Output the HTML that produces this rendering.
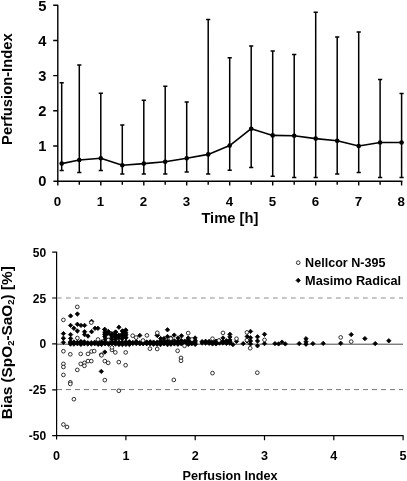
<!DOCTYPE html>
<html lang="en"><head><meta charset="utf-8"><title>Perfusion Index</title>
<style>html,body{margin:0;padding:0;background:#fff}svg{display:block}text{font-family:"Liberation Sans",sans-serif;font-weight:bold;fill:#000}</style>
</head><body>
<svg width="407" height="481" viewBox="0 0 407 481">
<rect width="407" height="481" fill="#fff"/>
<g stroke="#000" stroke-width="1.4" fill="none">
<path d="M57.8 4.8V185.5M53.4 181.2H402.4"/>
<path d="M53.2 146.0H57.8M53.2 110.8H57.8M53.2 75.6H57.8M53.2 40.5H57.8M53.2 5.3H57.8M79.3 181.2V184.8M100.8 181.2V185.6M122.3 181.2V184.8M143.8 181.2V185.6M165.2 181.2V184.8M186.7 181.2V185.6M208.2 181.2V184.8M229.7 181.2V185.6M251.2 181.2V184.8M272.7 181.2V185.6M294.2 181.2V184.8M315.7 181.2V185.6M337.2 181.2V184.8M358.7 181.2V185.6M380.1 181.2V184.8M401.6 181.2V185.6"/>
</g>
<path d="M61.7 82.7V170.6M59.6 82.7h4.2M59.6 170.6h4.2M79.3 65.1V172.5M77.2 65.1h4.2M77.2 172.5h4.2M100.8 93.2V170.6M98.7 93.2h4.2M98.7 170.6h4.2M122.3 124.9V174.1M120.2 124.9h4.2M120.2 174.1h4.2M143.8 100.3V174.1M141.7 100.3h4.2M141.7 174.1h4.2M165.2 86.2V174.1M163.2 86.2h4.2M163.2 174.1h4.2M186.7 102.0V172.0M184.6 102.0h4.2M184.6 172.0h4.2M208.2 19.4V174.1M206.1 19.4h4.2M206.1 174.1h4.2M229.7 57.7V170.2M227.6 57.7h4.2M227.6 170.2h4.2M251.2 46.1V167.4M249.1 46.1h4.2M249.1 167.4h4.2M272.7 51.0V176.2M270.6 51.0h4.2M270.6 176.2h4.2M294.2 54.5V177.6M292.1 54.5h4.2M292.1 177.6h4.2M315.7 12.3V177.6M313.6 12.3h4.2M313.6 177.6h4.2M337.2 37.0V174.1M335.1 37.0h4.2M335.1 174.1h4.2M358.7 32.0V172.4M356.6 32.0h4.2M356.6 172.4h4.2M380.1 79.5V177.6M378.0 79.5h4.2M378.0 177.6h4.2M401.6 93.6V177.6M399.5 93.6h4.2M399.5 177.6h4.2" stroke="#000" stroke-width="1.5" fill="none"/>
<polyline points="61.7,163.6 79.3,160.0 100.8,158.3 122.3,165.3 143.8,163.6 165.2,161.8 186.7,158.3 208.2,154.4 229.7,145.6 251.2,128.7 272.7,135.4 294.2,135.8 315.7,138.6 337.2,140.7 358.7,146.0 380.1,142.5 401.6,142.5" stroke="#000" stroke-width="1.6" fill="none" stroke-linejoin="round"/>
<circle cx="61.7" cy="163.6" r="2.3"/>
<circle cx="79.3" cy="160.0" r="2.3"/>
<circle cx="100.8" cy="158.3" r="2.3"/>
<circle cx="122.3" cy="165.3" r="2.3"/>
<circle cx="143.8" cy="163.6" r="2.3"/>
<circle cx="165.2" cy="161.8" r="2.3"/>
<circle cx="186.7" cy="158.3" r="2.3"/>
<circle cx="208.2" cy="154.4" r="2.3"/>
<circle cx="229.7" cy="145.6" r="2.3"/>
<circle cx="251.2" cy="128.7" r="2.3"/>
<circle cx="272.7" cy="135.4" r="2.3"/>
<circle cx="294.2" cy="135.8" r="2.3"/>
<circle cx="315.7" cy="138.6" r="2.3"/>
<circle cx="337.2" cy="140.7" r="2.3"/>
<circle cx="358.7" cy="146.0" r="2.3"/>
<circle cx="380.1" cy="142.5" r="2.3"/>
<circle cx="401.6" cy="142.5" r="2.3"/>
<text x="46.4" y="186.3" font-size="14.7" text-anchor="end">0</text>
<text x="46.4" y="151.2" font-size="14.7" text-anchor="end">1</text>
<text x="46.4" y="116.0" font-size="14.7" text-anchor="end">2</text>
<text x="46.4" y="80.8" font-size="14.7" text-anchor="end">3</text>
<text x="46.4" y="45.7" font-size="14.7" text-anchor="end">4</text>
<text x="46.4" y="10.5" font-size="14.7" text-anchor="end">5</text>
<text x="57.5" y="205.7" font-size="13.3" text-anchor="middle">0</text>
<text x="100.5" y="205.7" font-size="13.3" text-anchor="middle">1</text>
<text x="143.5" y="205.7" font-size="13.3" text-anchor="middle">2</text>
<text x="186.4" y="205.7" font-size="13.3" text-anchor="middle">3</text>
<text x="229.4" y="205.7" font-size="13.3" text-anchor="middle">4</text>
<text x="272.4" y="205.7" font-size="13.3" text-anchor="middle">5</text>
<text x="315.4" y="205.7" font-size="13.3" text-anchor="middle">6</text>
<text x="358.4" y="205.7" font-size="13.3" text-anchor="middle">7</text>
<text x="401.3" y="205.7" font-size="13.3" text-anchor="middle">8</text>
<text x="201.4" y="222.7" font-size="14.3" textLength="56.9" lengthAdjust="spacingAndGlyphs">Time [h]</text>
<text transform="translate(12.0 144.9) rotate(-90)" font-size="14.3" textLength="111.6" lengthAdjust="spacingAndGlyphs">Perfusion-Index</text>
<g stroke="#000" stroke-width="1.2" fill="none">
<path d="M56.6 251.7V439.6M52.2 435.6H403.4"/>
<path d="M52.2 252.2H56.6M52.2 298.0H56.6M52.2 343.9H56.6M52.2 389.8H56.6M125.9 435.6V440.2M195.2 435.6V440.2M264.5 435.6V440.2M333.8 435.6V440.2M403.1 435.6V440.2"/>
</g>
<path d="M57 298.0H403" stroke="#b4b4b4" stroke-width="1.6" stroke-dasharray="4.7 4.3" fill="none"/>
<path d="M57 389.6H403" stroke="#555" stroke-width="0.8" stroke-dasharray="5 4" fill="none"/>
<path d="M57 344.2H403" stroke="#333" stroke-width="0.9" fill="none"/>
<text x="46.2" y="256.7" font-size="12" text-anchor="end">50</text>
<text x="46.2" y="302.5" font-size="12" text-anchor="end">25</text>
<text x="46.2" y="348.4" font-size="12" text-anchor="end">0</text>
<text x="46.2" y="394.2" font-size="12" text-anchor="end">-25</text>
<text x="46.2" y="440.1" font-size="12" text-anchor="end">-50</text>
<text x="56.6" y="459.5" font-size="12.6" text-anchor="middle">0</text>
<text x="125.9" y="459.5" font-size="12.6" text-anchor="middle">1</text>
<text x="195.2" y="459.5" font-size="12.6" text-anchor="middle">2</text>
<text x="264.5" y="459.5" font-size="12.6" text-anchor="middle">3</text>
<text x="333.8" y="459.5" font-size="12.6" text-anchor="middle">4</text>
<text x="403.1" y="459.5" font-size="12.6" text-anchor="middle">5</text>
<text x="182.6" y="480.4" font-size="12.2" textLength="95" lengthAdjust="spacingAndGlyphs">Perfusion Index</text>
<text transform="translate(12.3 419.2) rotate(-90)" font-size="14.6" textLength="153" lengthAdjust="spacingAndGlyphs">Bias (SpO<tspan font-size="9" dy="1.8">2</tspan><tspan dy="-1.8">-SaO</tspan><tspan font-size="9" dy="1.8">2</tspan><tspan dy="-1.8">) [%]</tspan></text>
<text x="305.1" y="267.1" font-size="12.3" textLength="80.4" lengthAdjust="spacingAndGlyphs">Nellcor N-395</text>
<text x="305.1" y="284.8" font-size="12.3" textLength="96" lengthAdjust="spacingAndGlyphs">Masimo Radical</text>
<path d="M70.5 339.6L72.7 341.8L70.5 344.0L68.3 341.8ZM70.5 340.7L72.7 342.9L70.5 345.1L68.3 342.9ZM70.5 341.9L72.7 344.1L70.5 346.3L68.3 344.1ZM73.9 339.8L76.1 342.0L73.9 344.2L71.7 342.0ZM73.9 340.9L76.1 343.1L73.9 345.3L71.7 343.1ZM73.9 341.9L76.1 344.1L73.9 346.3L71.7 344.1ZM77.4 340.1L79.6 342.3L77.4 344.5L75.2 342.3ZM77.4 341.5L79.6 343.7L77.4 345.9L75.2 343.7ZM80.9 339.3L83.1 341.5L80.9 343.7L78.7 341.5ZM80.9 340.7L83.1 342.9L80.9 345.1L78.7 342.9ZM80.9 342.2L83.1 344.4L80.9 346.6L78.7 344.4ZM84.3 339.6L86.5 341.8L84.3 344.0L82.1 341.8ZM84.3 340.6L86.5 342.8L84.3 345.0L82.1 342.8ZM84.3 341.6L86.5 343.8L84.3 346.0L82.1 343.8ZM87.8 340.6L90.0 342.8L87.8 345.0L85.6 342.8ZM87.8 341.8L90.0 344.0L87.8 346.2L85.6 344.0ZM91.2 340.4L93.5 342.6L91.2 344.8L89.0 342.6ZM91.2 341.8L93.5 344.0L91.2 346.2L89.0 344.0ZM94.7 340.1L96.9 342.3L94.7 344.5L92.5 342.3ZM94.7 341.5L96.9 343.7L94.7 345.9L92.5 343.7ZM98.2 340.1L100.4 342.3L98.2 344.5L96.0 342.3ZM98.2 341.2L100.4 343.4L98.2 345.6L96.0 343.4ZM98.2 342.2L100.4 344.4L98.2 346.6L96.0 344.4ZM101.6 339.7L103.8 341.9L101.6 344.1L99.4 341.9ZM101.6 340.9L103.8 343.1L101.6 345.3L99.4 343.1ZM101.6 342.2L103.8 344.4L101.6 346.6L99.4 344.4ZM105.1 339.9L107.3 342.1L105.1 344.3L102.9 342.1ZM105.1 340.7L107.3 342.9L105.1 345.1L102.9 342.9ZM105.1 341.6L107.3 343.8L105.1 346.0L102.9 343.8ZM108.6 340.0L110.8 342.2L108.6 344.4L106.4 342.2ZM108.6 341.0L110.8 343.2L108.6 345.4L106.4 343.2ZM108.6 342.0L110.8 344.2L108.6 346.4L106.4 344.2ZM112.0 339.4L114.2 341.6L112.0 343.8L109.8 341.6ZM112.0 340.5L114.2 342.7L112.0 344.9L109.8 342.7ZM112.0 341.5L114.2 343.7L112.0 345.9L109.8 343.7ZM115.5 340.1L117.7 342.3L115.5 344.5L113.3 342.3ZM115.5 341.0L117.7 343.2L115.5 345.4L113.3 343.2ZM115.5 341.9L117.7 344.1L115.5 346.3L113.3 344.1ZM119.0 339.9L121.2 342.1L119.0 344.3L116.8 342.1ZM119.0 341.1L121.2 343.3L119.0 345.5L116.8 343.3ZM119.0 342.3L121.2 344.5L119.0 346.7L116.8 344.5ZM122.4 339.9L124.6 342.1L122.4 344.3L120.2 342.1ZM122.4 341.1L124.6 343.3L122.4 345.5L120.2 343.3ZM122.4 342.3L124.6 344.5L122.4 346.7L120.2 344.5ZM125.9 339.5L128.1 341.7L125.9 343.9L123.7 341.7ZM125.9 340.9L128.1 343.1L125.9 345.3L123.7 343.1ZM125.9 342.2L128.1 344.4L125.9 346.6L123.7 344.4ZM129.4 339.6L131.6 341.8L129.4 344.0L127.2 341.8ZM129.4 341.0L131.6 343.2L129.4 345.4L127.2 343.2ZM129.4 342.3L131.6 344.5L129.4 346.7L127.2 344.5ZM132.8 340.2L135.0 342.4L132.8 344.6L130.6 342.4ZM132.8 341.3L135.0 343.5L132.8 345.7L130.6 343.5ZM136.3 339.3L138.5 341.5L136.3 343.7L134.1 341.5ZM136.3 340.3L138.5 342.5L136.3 344.7L134.1 342.5ZM136.3 341.4L138.5 343.6L136.3 345.8L134.1 343.6ZM139.8 340.4L142.0 342.6L139.8 344.8L137.6 342.6ZM139.8 341.6L142.0 343.8L139.8 346.0L137.6 343.8ZM143.2 339.9L145.4 342.1L143.2 344.3L141.0 342.1ZM143.2 340.7L145.4 342.9L143.2 345.1L141.0 342.9ZM143.2 341.5L145.4 343.7L143.2 345.9L141.0 343.7ZM146.7 339.8L148.9 342.0L146.7 344.2L144.5 342.0ZM146.7 340.7L148.9 342.9L146.7 345.1L144.5 342.9ZM146.7 341.5L148.9 343.7L146.7 345.9L144.5 343.7ZM150.2 339.6L152.4 341.8L150.2 344.0L148.0 341.8ZM150.2 340.6L152.4 342.8L150.2 345.0L148.0 342.8ZM150.2 341.7L152.4 343.9L150.2 346.1L148.0 343.9ZM153.6 339.9L155.8 342.1L153.6 344.3L151.4 342.1ZM153.6 340.9L155.8 343.1L153.6 345.3L151.4 343.1ZM153.6 342.0L155.8 344.2L153.6 346.4L151.4 344.2ZM157.1 340.0L159.3 342.2L157.1 344.4L154.9 342.2ZM157.1 341.0L159.3 343.2L157.1 345.4L154.9 343.2ZM157.1 342.0L159.3 344.2L157.1 346.4L154.9 344.2ZM160.5 338.9L162.7 341.1L160.5 343.3L158.3 341.1ZM160.5 340.1L162.7 342.3L160.5 344.5L158.3 342.3ZM160.5 341.2L162.7 343.4L160.5 345.6L158.3 343.4ZM160.5 342.4L162.7 344.6L160.5 346.8L158.3 344.6ZM164.0 338.7L166.2 340.9L164.0 343.1L161.8 340.9ZM164.0 340.2L166.2 342.4L164.0 344.6L161.8 342.4ZM164.0 341.6L166.2 343.8L164.0 346.0L161.8 343.8ZM167.5 338.9L169.7 341.1L167.5 343.3L165.3 341.1ZM167.5 340.1L169.7 342.3L167.5 344.5L165.3 342.3ZM167.5 341.2L169.7 343.4L167.5 345.6L165.3 343.4ZM167.5 342.4L169.7 344.6L167.5 346.8L165.3 344.6ZM170.9 339.0L173.1 341.2L170.9 343.4L168.7 341.2ZM170.9 340.0L173.1 342.2L170.9 344.4L168.7 342.2ZM170.9 341.0L173.1 343.2L170.9 345.4L168.7 343.2ZM170.9 342.0L173.1 344.2L170.9 346.4L168.7 344.2ZM174.4 338.7L176.6 340.9L174.4 343.1L172.2 340.9ZM174.4 340.2L176.6 342.4L174.4 344.6L172.2 342.4ZM174.4 341.7L176.6 343.9L174.4 346.1L172.2 343.9ZM177.9 338.9L180.1 341.1L177.9 343.3L175.7 341.1ZM177.9 339.9L180.1 342.1L177.9 344.3L175.7 342.1ZM177.9 341.0L180.1 343.2L177.9 345.4L175.7 343.2ZM177.9 342.0L180.1 344.2L177.9 346.4L175.7 344.2ZM181.3 338.2L183.5 340.4L181.3 342.6L179.1 340.4ZM181.3 339.3L183.5 341.5L181.3 343.7L179.1 341.5ZM181.3 340.4L183.5 342.6L181.3 344.8L179.1 342.6ZM181.3 341.6L183.5 343.8L181.3 346.0L179.1 343.8ZM184.8 338.9L187.0 341.1L184.8 343.3L182.6 341.1ZM184.8 340.1L187.0 342.3L184.8 344.5L182.6 342.3ZM184.8 341.2L187.0 343.4L184.8 345.6L182.6 343.4ZM184.8 342.4L187.0 344.6L184.8 346.8L182.6 344.6ZM188.3 337.9L190.5 340.1L188.3 342.3L186.1 340.1ZM188.3 339.4L190.5 341.6L188.3 343.8L186.1 341.6ZM188.3 340.8L190.5 343.0L188.3 345.2L186.1 343.0ZM188.3 342.2L190.5 344.4L188.3 346.6L186.1 344.4ZM191.7 338.3L193.9 340.5L191.7 342.7L189.5 340.5ZM191.7 339.4L193.9 341.6L191.7 343.8L189.5 341.6ZM191.7 340.5L193.9 342.7L191.7 344.9L189.5 342.7ZM191.7 341.6L193.9 343.8L191.7 346.0L189.5 343.8ZM195.2 338.2L197.4 340.4L195.2 342.6L193.0 340.4ZM195.2 339.5L197.4 341.7L195.2 343.9L193.0 341.7ZM195.2 340.9L197.4 343.1L195.2 345.3L193.0 343.1ZM195.2 342.2L197.4 344.4L195.2 346.6L193.0 344.4ZM202.1 339.4L204.3 341.6L202.1 343.8L199.9 341.6ZM202.1 340.8L204.3 343.0L202.1 345.2L199.9 343.0ZM205.6 339.1L207.8 341.3L205.6 343.5L203.4 341.3ZM205.6 340.0L207.8 342.2L205.6 344.4L203.4 342.2ZM205.6 340.8L207.8 343.0L205.6 345.2L203.4 343.0ZM209.1 339.2L211.3 341.4L209.1 343.6L206.9 341.4ZM209.1 340.2L211.3 342.4L209.1 344.6L206.9 342.4ZM209.1 341.1L211.3 343.3L209.1 345.5L206.9 343.3ZM212.5 339.4L214.7 341.6L212.5 343.8L210.3 341.6ZM212.5 340.6L214.7 342.8L212.5 345.0L210.3 342.8ZM212.5 341.7L214.7 343.9L212.5 346.1L210.3 343.9ZM216.0 339.0L218.2 341.2L216.0 343.4L213.8 341.2ZM216.0 340.3L218.2 342.5L216.0 344.7L213.8 342.5ZM216.0 341.7L218.2 343.9L216.0 346.1L213.8 343.9ZM219.5 338.7L221.7 340.9L219.5 343.1L217.3 340.9ZM219.5 339.8L221.7 342.0L219.5 344.2L217.3 342.0ZM219.5 340.9L221.7 343.1L219.5 345.3L217.3 343.1ZM222.9 339.1L225.1 341.3L222.9 343.5L220.7 341.3ZM222.9 340.0L225.1 342.2L222.9 344.4L220.7 342.2ZM222.9 340.8L225.1 343.0L222.9 345.2L220.7 343.0ZM226.4 338.6L228.6 340.8L226.4 343.0L224.2 340.8ZM226.4 339.9L228.6 342.1L226.4 344.3L224.2 342.1ZM226.4 341.2L228.6 343.4L226.4 345.6L224.2 343.4ZM229.8 339.1L232.0 341.3L229.8 343.5L227.7 341.3ZM229.8 340.0L232.0 342.2L229.8 344.4L227.7 342.2ZM229.8 340.9L232.0 343.1L229.8 345.3L227.7 343.1ZM70.6 313.7L72.8 315.9L70.6 318.1L68.4 315.9ZM77.4 311.8L79.6 314.0L77.4 316.2L75.2 314.0ZM70.6 323.2L72.8 325.4L70.6 327.6L68.4 325.4ZM77.4 322.1L79.6 324.3L77.4 326.5L75.2 324.3ZM81.0 323.2L83.2 325.4L81.0 327.6L78.8 325.4ZM84.6 323.2L86.8 325.4L84.6 327.6L82.4 325.4ZM73.9 326.1L76.1 328.3L73.9 330.5L71.7 328.3ZM77.4 328.8L79.6 331.0L77.4 333.2L75.2 331.0ZM63.4 331.4L65.6 333.6L63.4 335.8L61.2 333.6ZM70.6 332.4L72.8 334.6L70.6 336.8L68.4 334.6ZM84.6 329.5L86.8 331.7L84.6 333.9L82.4 331.7ZM84.6 332.4L86.8 334.6L84.6 336.8L82.4 334.6ZM91.6 319.2L93.8 321.4L91.6 323.6L89.4 321.4ZM91.6 329.5L93.8 331.7L91.6 333.9L89.4 331.7ZM95.0 326.1L97.2 328.3L95.0 330.5L92.8 328.3ZM97.9 326.1L100.1 328.3L97.9 330.5L95.7 328.3ZM104.8 327.3L107.0 329.5L104.8 331.7L102.6 329.5ZM88.0 333.9L90.2 336.1L88.0 338.3L85.8 336.1ZM63.4 336.0L65.6 338.2L63.4 340.4L61.2 338.2ZM63.4 340.2L65.6 342.4L63.4 344.6L61.2 342.4ZM70.6 336.3L72.8 338.5L70.6 340.7L68.4 338.5ZM70.6 340.3L72.8 342.5L70.6 344.7L68.4 342.5ZM104.8 349.9L107.0 352.1L104.8 354.3L102.6 352.1ZM101.3 369.2L103.5 371.4L101.3 373.6L99.1 371.4ZM104.9 330.8L107.1 333.0L104.9 335.2L102.7 333.0ZM104.9 334.3L107.1 336.5L104.9 338.7L102.7 336.5ZM108.4 329.5L110.6 331.7L108.4 333.9L106.2 331.7ZM108.4 333.8L110.6 336.0L108.4 338.2L106.2 336.0ZM111.8 331.7L114.0 333.9L111.8 336.1L109.6 333.9ZM111.8 334.8L114.0 337.0L111.8 339.2L109.6 337.0ZM115.5 329.9L117.7 332.1L115.5 334.3L113.3 332.1ZM115.5 333.8L117.7 336.0L115.5 338.2L113.3 336.0ZM118.9 325.0L121.1 327.2L118.9 329.4L116.7 327.2ZM118.9 333.2L121.1 335.4L118.9 337.6L116.7 335.4ZM122.4 328.8L124.6 331.0L122.4 333.2L120.2 331.0ZM122.4 333.3L124.6 335.5L122.4 337.7L120.2 335.5ZM125.8 328.0L128.0 330.2L125.8 332.4L123.6 330.2ZM125.8 332.4L128.0 334.6L125.8 336.8L123.6 334.6ZM125.8 335.3L128.0 337.5L125.8 339.7L123.6 337.5ZM139.8 333.2L142.0 335.4L139.8 337.6L137.6 335.4ZM157.5 333.1L159.7 335.3L157.5 337.5L155.3 335.3ZM160.7 336.3L162.9 338.5L160.7 340.7L158.5 338.5ZM167.5 327.6L169.7 329.8L167.5 332.0L165.3 329.8ZM157.2 333.2L159.4 335.4L157.2 337.6L155.0 335.4ZM174.2 332.9L176.4 335.1L174.2 337.3L172.0 335.1ZM181.5 333.6L183.7 335.8L181.5 338.0L179.3 335.8ZM167.5 334.3L169.7 336.5L167.5 338.7L165.3 336.5ZM188.2 335.8L190.4 338.0L188.2 340.2L186.0 338.0ZM195.1 335.8L197.3 338.0L195.1 340.2L192.9 338.0ZM171.0 335.8L173.2 338.0L171.0 340.2L168.8 338.0ZM178.0 335.8L180.2 338.0L178.0 340.2L175.8 338.0ZM164.0 336.3L166.2 338.5L164.0 340.7L161.8 338.5ZM250.5 329.2L252.7 331.4L250.5 333.6L248.3 331.4ZM264.5 332.1L266.7 334.3L264.5 336.5L262.3 334.3ZM247.2 334.3L249.4 336.5L247.2 338.7L245.0 336.5ZM250.5 335.5L252.7 337.7L250.5 339.9L248.3 337.7ZM257.5 334.6L259.7 336.8L257.5 339.0L255.3 336.8ZM257.5 338.8L259.7 341.0L257.5 343.2L255.3 341.0ZM257.5 343.6L259.7 345.8L257.5 348.0L255.3 345.8ZM250.5 341.7L252.7 343.9L250.5 346.1L248.3 343.9ZM243.2 341.4L245.4 343.6L243.2 345.8L241.0 343.6ZM236.5 339.1L238.7 341.3L236.5 343.5L234.3 341.3ZM232.9 342.4L235.1 344.6L232.9 346.8L230.7 344.6ZM264.5 341.4L266.7 343.6L264.5 345.8L262.3 343.6ZM229.9 332.1L232.1 334.3L229.9 336.5L227.7 334.3ZM229.9 334.8L232.1 337.0L229.9 339.2L227.7 337.0ZM229.9 337.8L232.1 340.0L229.9 342.2L227.7 340.0ZM229.9 340.8L232.1 343.0L229.9 345.2L227.7 343.0ZM223.0 335.8L225.2 338.0L223.0 340.2L220.8 338.0ZM247.2 338.8L249.4 341.0L247.2 343.2L245.0 341.0ZM250.5 338.8L252.7 341.0L250.5 343.2L248.3 341.0ZM275.0 341.4L277.2 343.6L275.0 345.8L272.8 343.6ZM278.6 341.7L280.8 343.9L278.6 346.1L276.4 343.9ZM282.0 339.9L284.2 342.1L282.0 344.3L279.8 342.1ZM285.3 341.7L287.5 343.9L285.3 346.1L283.1 343.9ZM299.2 341.4L301.4 343.6L299.2 345.8L297.0 343.6ZM306.0 336.5L308.2 338.7L306.0 340.9L303.8 338.7ZM306.0 339.5L308.2 341.7L306.0 343.9L303.8 341.7ZM306.0 342.0L308.2 344.2L306.0 346.4L303.8 344.2ZM312.9 341.4L315.1 343.6L312.9 345.8L310.7 343.6ZM323.2 341.2L325.4 343.4L323.2 345.6L321.0 343.4ZM340.7 341.1L342.9 343.3L340.7 345.5L338.5 343.3ZM351.2 332.4L353.4 334.6L351.2 336.8L349.0 334.6ZM364.9 336.4L367.1 338.6L364.9 340.8L362.7 338.6ZM375.2 341.4L377.4 343.6L375.2 345.8L373.0 343.6ZM388.8 338.6L391.0 340.8L388.8 343.0L386.6 340.8ZM104.6 327.2L106.8 329.4L104.6 331.6L102.4 329.4ZM105.1 329.7L107.3 331.9L105.1 334.1L102.9 331.9ZM104.8 332.2L107.0 334.4L104.8 336.6L102.6 334.4ZM105.2 334.7L107.4 336.9L105.2 339.1L103.0 336.9ZM105.1 337.2L107.3 339.4L105.1 341.6L102.9 339.4ZM108.3 329.5L110.5 331.7L108.3 333.9L106.1 331.7ZM108.4 332.0L110.6 334.2L108.4 336.4L106.2 334.2ZM108.4 334.5L110.6 336.7L108.4 338.9L106.2 336.7ZM108.5 337.0L110.7 339.2L108.5 341.4L106.3 339.2ZM111.9 331.7L114.1 333.9L111.9 336.1L109.7 333.9ZM111.8 334.2L114.0 336.4L111.8 338.6L109.6 336.4ZM111.9 336.7L114.1 338.9L111.9 341.1L109.7 338.9ZM115.8 329.9L118.0 332.1L115.8 334.3L113.6 332.1ZM115.5 332.4L117.7 334.6L115.5 336.8L113.3 334.6ZM115.5 334.9L117.7 337.1L115.5 339.3L113.3 337.1ZM115.6 337.4L117.8 339.6L115.6 341.8L113.4 339.6ZM118.7 333.2L120.9 335.4L118.7 337.6L116.5 335.4ZM118.8 335.7L121.0 337.9L118.8 340.1L116.6 337.9ZM122.7 329.0L124.9 331.2L122.7 333.4L120.5 331.2ZM122.4 331.5L124.6 333.7L122.4 335.9L120.2 333.7ZM122.4 334.0L124.6 336.2L122.4 338.4L120.2 336.2ZM122.1 336.5L124.3 338.7L122.1 340.9L119.9 338.7ZM125.7 328.0L127.9 330.2L125.7 332.4L123.5 330.2ZM125.8 330.5L128.0 332.7L125.8 334.9L123.6 332.7ZM125.5 333.0L127.7 335.2L125.5 337.4L123.3 335.2ZM125.9 335.5L128.1 337.7L125.9 339.9L123.7 337.7Z" fill="#000" stroke="#000" stroke-width="0.8" stroke-linejoin="round"/>
<g fill="#fff" stroke="#000" stroke-width="0.8">
<circle cx="77.3" cy="306.9" r="1.85"/>
<circle cx="63.4" cy="319.9" r="1.85"/>
<circle cx="91.3" cy="322.6" r="1.85"/>
<circle cx="63.4" cy="351.2" r="1.85"/>
<circle cx="70.3" cy="354.3" r="1.85"/>
<circle cx="80.7" cy="353.9" r="1.85"/>
<circle cx="88.0" cy="353.9" r="1.85"/>
<circle cx="91.5" cy="351.5" r="1.85"/>
<circle cx="94.2" cy="351.1" r="1.85"/>
<circle cx="101.2" cy="354.8" r="1.85"/>
<circle cx="63.4" cy="363.9" r="1.85"/>
<circle cx="63.4" cy="367.0" r="1.85"/>
<circle cx="63.4" cy="374.9" r="1.85"/>
<circle cx="70.3" cy="382.3" r="1.85"/>
<circle cx="70.3" cy="383.9" r="1.85"/>
<circle cx="77.3" cy="369.9" r="1.85"/>
<circle cx="80.7" cy="363.9" r="1.85"/>
<circle cx="84.4" cy="362.9" r="1.85"/>
<circle cx="84.4" cy="365.8" r="1.85"/>
<circle cx="88.0" cy="361.1" r="1.85"/>
<circle cx="91.3" cy="361.1" r="1.85"/>
<circle cx="104.8" cy="361.1" r="1.85"/>
<circle cx="108.2" cy="362.9" r="1.85"/>
<circle cx="104.8" cy="380.1" r="1.85"/>
<circle cx="73.9" cy="399.2" r="1.85"/>
<circle cx="63.4" cy="424.5" r="1.85"/>
<circle cx="67.0" cy="427.0" r="1.85"/>
<circle cx="132.7" cy="335.7" r="1.85"/>
<circle cx="136.1" cy="337.6" r="1.85"/>
<circle cx="146.9" cy="335.4" r="1.85"/>
<circle cx="157.3" cy="332.8" r="1.85"/>
<circle cx="108.4" cy="336.9" r="1.85"/>
<circle cx="111.9" cy="349.9" r="1.85"/>
<circle cx="115.3" cy="352.4" r="1.85"/>
<circle cx="125.7" cy="352.4" r="1.85"/>
<circle cx="149.9" cy="348.7" r="1.85"/>
<circle cx="157.2" cy="349.0" r="1.85"/>
<circle cx="101.5" cy="355.3" r="1.85"/>
<circle cx="111.9" cy="347.4" r="1.85"/>
<circle cx="118.8" cy="362.1" r="1.85"/>
<circle cx="125.6" cy="365.2" r="1.85"/>
<circle cx="118.8" cy="390.8" r="1.85"/>
<circle cx="177.6" cy="350.8" r="1.85"/>
<circle cx="181.0" cy="357.9" r="1.85"/>
<circle cx="181.0" cy="360.8" r="1.85"/>
<circle cx="173.8" cy="379.9" r="1.85"/>
<circle cx="188.2" cy="333.1" r="1.85"/>
<circle cx="184.5" cy="345.8" r="1.85"/>
<circle cx="212.5" cy="338.7" r="1.85"/>
<circle cx="77.4" cy="338.0" r="1.85"/>
<circle cx="223.0" cy="332.9" r="1.85"/>
<circle cx="236.5" cy="338.7" r="1.85"/>
<circle cx="246.9" cy="332.4" r="1.85"/>
<circle cx="250.2" cy="348.2" r="1.85"/>
<circle cx="264.5" cy="339.9" r="1.85"/>
<circle cx="246.9" cy="340.2" r="1.85"/>
<circle cx="212.5" cy="373.1" r="1.85"/>
<circle cx="257.3" cy="372.7" r="1.85"/>
<circle cx="340.7" cy="337.4" r="1.85"/>
<circle cx="351.2" cy="341.6" r="1.85"/>
<circle cx="108.3" cy="340.0" r="1.85"/>
<circle cx="143.0" cy="340.5" r="1.85"/>
<circle cx="170.8" cy="338.6" r="1.85"/>
<circle cx="192.0" cy="339.5" r="1.85"/>
<circle cx="219.0" cy="340.5" r="1.85"/>
<circle cx="98.0" cy="339.5" r="1.85"/>
<circle cx="298.2" cy="262.7" r="1.85"/>
</g>
<path d="M298.2 278.2L300.4 280.4L298.2 282.6L296.0 280.4Z" fill="#000" stroke="#000" stroke-width="0.8" stroke-linejoin="round"/>
</svg>
</body></html>
